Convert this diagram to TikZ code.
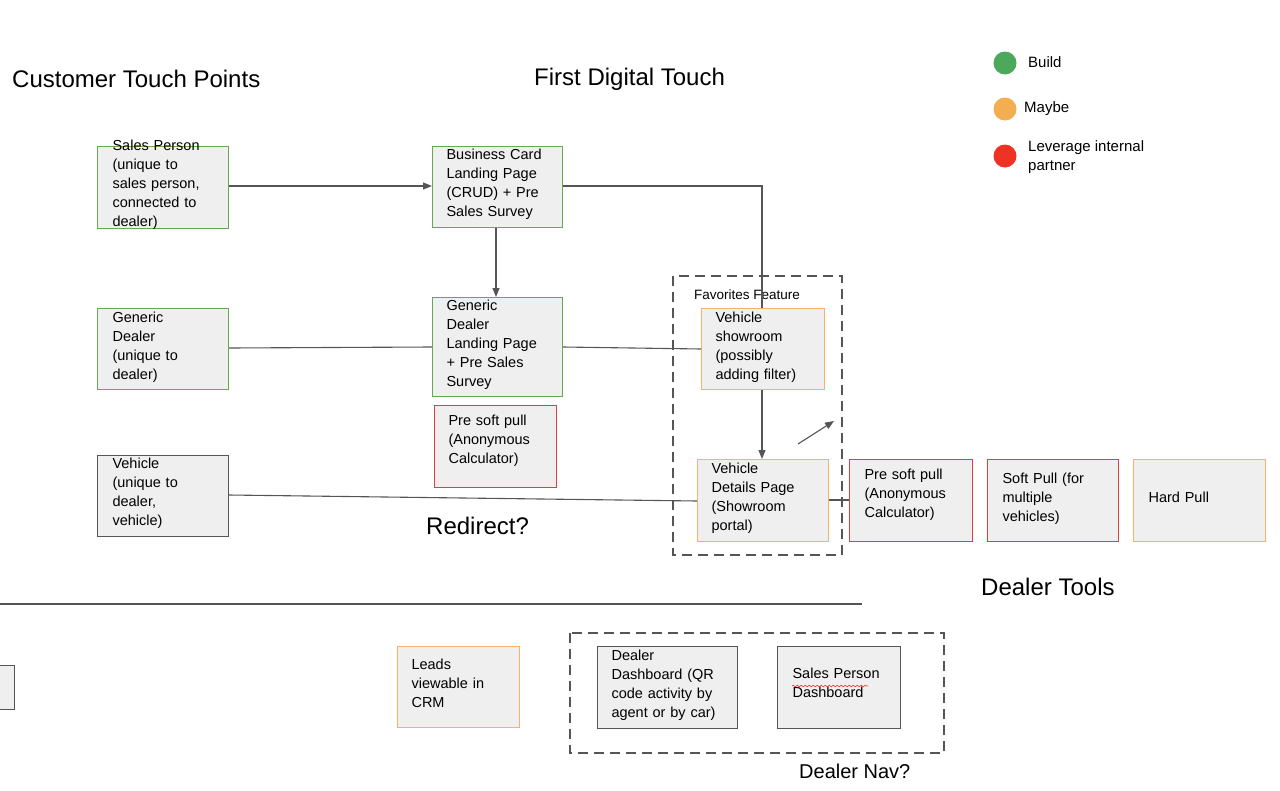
\documentclass[tikz,border=0pt]{standalone}
\usepackage{fontspec}
\setmainfont{Liberation Sans}
\usetikzlibrary{arrows.meta,decorations.pathmorphing}
\definecolor{bg}{HTML}{EFEFEF}
\definecolor{gb}{HTML}{6AA84F}
\definecolor{ob}{HTML}{F6B26B}
\definecolor{rb}{HTML}{E0403A}
\definecolor{kb}{HTML}{555555}
\definecolor{gdot}{HTML}{4CA85A}
\definecolor{odot}{HTML}{F4AE52}
\definecolor{rdot}{HTML}{EE3325}
\begin{document}
\begin{tikzpicture}[x=1pt,y=-1pt,
  box/.style={draw, fill=bg, line width=1.1pt, inner xsep=12pt, inner ysep=0pt, align=left,
    font=\fontsize{14.5}{19}\selectfont, anchor=north west},
  g/.style={box, draw=gb}, o/.style={box, draw=ob}, r/.style={box, draw=rb}, k/.style={box, draw=kb},
  con/.style={draw=kb, line width=1.1pt},
  arr/.style={con, -{Triangle[length=9pt,width=7pt]}},
  dbox/.style={draw=kb, line width=2.2pt, dash pattern=on 10pt off 6pt},
  head/.style={font=\fontsize{24}{28}\selectfont, anchor=west, inner sep=0},
  lab/.style={font=\fontsize{15}{19}\selectfont, anchor=west, inner sep=0, align=left}]
\useasboundingbox (0,0) rectangle (1280,790);
% headings
\node[head] (h1) at (12,79) {Customer Touch Points};
\node[head] (h2) at (534,79) {First Digital Touch};
\node[head] (h3) at (426,526) {Redirect?};
\node[head] (h4) at (981,587) {Dealer Tools};
\node[head,font=\fontsize{20}{24}\selectfont] (h5) at (799,771) {Dealer Nav?};
% legend
\fill[gdot] (1005,63) circle (11.5) coordinate (c1);
\fill[odot] (1005,109) circle (11.5) coordinate (c2);
\fill[rdot] (1005,156) circle (11.5) coordinate (c3);
\node[lab] (l1) at (1028,62) {Build};
\node[lab] (l2) at (1024,109) {Maybe};
\node[lab] (l3) at (1028,157) {Leverage internal\\partner};
% dashed groups
\draw[dbox] (673,276) rectangle (842,555);
\draw[dbox] (570,633) rectangle (944,753);
\node[lab,font=\fontsize{13.5}{16}\selectfont] (fav) at (694,295) {Favorites Feature};
% separator
\draw[draw=kb, line width=1.1pt] (0,604) -- (862,604);
% boxes
\node[g, minimum width=131, minimum height=82] (sales) at (97,146) {};
\node[box, draw=none, fill=none, text width=110, inner xsep=0] (salest) at (112,139) {Sales Person\\(unique to\\sales person,\\connected to\\dealer)};
\node[g, minimum width=130, minimum height=81] (bcard) at (432,146) {};
\node[box, draw=none, fill=none, text width=120, inner xsep=0] (bcardt) at (446,148) {Business Card\\Landing Page\\(CRUD) + Pre\\Sales Survey};
\node[g, minimum width=131, minimum height=81] (gen) at (97,308) {};
\node[box, draw=none, fill=none, text width=110, inner xsep=0] (gent) at (112,311) {Generic\\Dealer\\(unique to\\dealer)};
\node[g, minimum width=130, minimum height=99] (gdl) at (432,297) {};
\node[box, draw=none, fill=none, text width=120, inner xsep=0] (gdlt) at (446,299) {Generic\\Dealer\\Landing Page\\+ Pre Sales\\Survey};
\node[r, minimum width=122, minimum height=82] (ps1) at (434,405) {};
\node[box, draw=none, fill=none, text width=110, inner xsep=0] (ps1t) at (448,414) {Pre soft pull\\(Anonymous\\Calculator{\Large)}};
\node[k, minimum width=131, minimum height=81] (veh) at (97,455) {};
\node[box, draw=none, fill=none, text width=110, inner xsep=0] (veht) at (112,457) {Vehicle\\(unique to\\dealer,\\vehicle)};
\node[o, minimum width=123, minimum height=81] (show) at (701,308) {};
\node[box, draw=none, fill=none, text width=110, inner xsep=0] (showt) at (715,311) {Vehicle\\showroom\\(possibly\\adding filter)};
\node[o, minimum width=131, minimum height=82] (det) at (697,459) {};
\node[box, draw=none, fill=none, text width=118, inner xsep=0] (dett) at (711,462) {Vehicle\\Details Page\\(Showroom\\portal)};
\node[r, minimum width=123, minimum height=82] (ps2) at (849,459) {};
\node[box, draw=none, fill=none, text width=110, inner xsep=0] (ps2t) at (864,468) {Pre soft pull\\(Anonymous\\Calculator{\Large)}};
\node[r, minimum width=131, minimum height=82] (soft) at (987,459) {};
\node[box, draw=none, fill=none, text width=115, inner xsep=0] (softt) at (1002,472) {Soft Pull (for\\multiple\\vehicles)};
\node[o, minimum width=132, minimum height=82] (hard) at (1133,459) {};
\node[box, draw=none, fill=none, text width=115, inner xsep=0] (hardt) at (1148,491) {Hard Pull};
\node[o, minimum width=122, minimum height=81] (leads) at (397,646) {};
\node[box, draw=none, fill=none, text width=110, inner xsep=0] (leadst) at (411,658) {Leads\\viewable in\\CRM};
\node[k, minimum width=140, minimum height=82] (ddash) at (597,646) {};
\node[box, draw=none, fill=none, text width=130, inner xsep=0] (ddasht) at (611,649) {Dealer\\Dashboard (QR\\code activity by\\agent or by car)};
\node[k, minimum width=123, minimum height=82] (sdash) at (777,646) {};
\node[box, draw=none, fill=none, text width=115, inner xsep=0] (sdasht) at (792,667) {Sales Person\\Dashboard};
\draw[rb, line width=0.6pt, decorate, decoration={snake, amplitude=0.8pt, segment length=4pt}] (792,686) -- (868,686);
\node[k, minimum width=18, minimum height=44] (stub) at (-10,665) {};
% connectors
\draw[arr] (sales.east |- 0,186) -- (bcard.west |- 0,186);
\draw[con] (bcard.east |- 0,186) -| (show.north -| 762,0);
\draw[arr] (bcard.south -| 496,0) -- (gdl.north -| 496,0);
\draw[con] (gen.east |- 0,348) -- (gdl.west |- 0,347);
\draw[con] (gdl.east |- 0,347) -- (show.west |- 0,349);
\draw[arr] (show.south -| 762,0) -- (det.north -| 762,0);
\draw[con] (veh.east |- 0,495) -- (det.west |- 0,501);
\coordinate (a1) at (798,444); \coordinate (a2) at (834,421);
\draw[arr] (a1) -- (a2);
\draw[con] (det.east |- 0,500) -- (ps2.west |- 0,500);
\end{tikzpicture}
\end{document}
